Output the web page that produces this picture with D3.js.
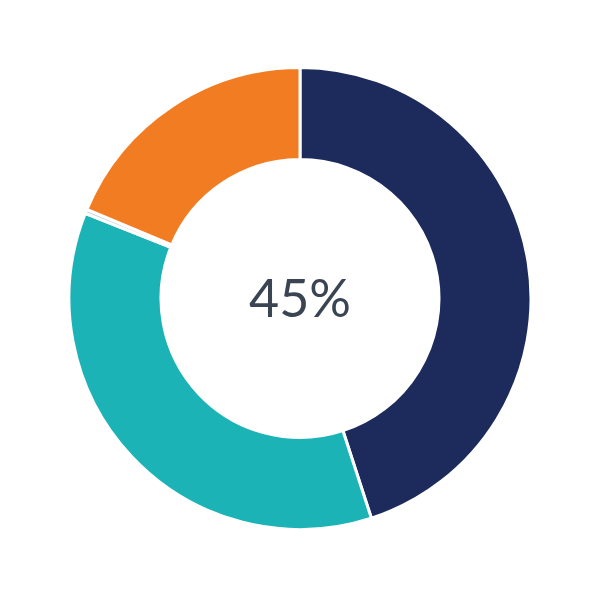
<!DOCTYPE html>
<html><head><meta charset="utf-8">
<script src="https://cdn.jsdelivr.net/npm/d3@7"></script>
<style>html,body{margin:0;padding:0;background:#fff;}svg{display:block;}</style>
</head><body>
<svg id="chart" width="600" height="599"></svg>
<script>
const categories = ["A", "B", "C", "D"];
const values = [45, 36, 0.3, 18.7];
const colors = ["#1c2b5b", "#1cb3b7", "#c3d9e8", "#f27c21"];
const centerLabel = "45%";

const svg = d3.select("#chart");
const g = svg.append("g").attr("transform", "translate(300,298.5)");
const pie = d3.pie().sort(null).value(d => d.v);
const data = pie(categories.map((c, i) => ({c, v: values[i], col: colors[i]})));
const arc = d3.arc().innerRadius(139).outerRadius(231);
g.selectAll("path").data(data).join("path")
  .attr("d", arc)
  .attr("fill", d => d.data.col)
  .attr("stroke", "#fff")
  .attr("stroke-width", 3);
g.append("text").attr("text-anchor", "middle").attr("y", 18)
  .attr("font-family", "Lato, sans-serif").attr("font-size", 52)
  .attr("fill", "#3b4452").text(centerLabel);
</script>
</body></html>
